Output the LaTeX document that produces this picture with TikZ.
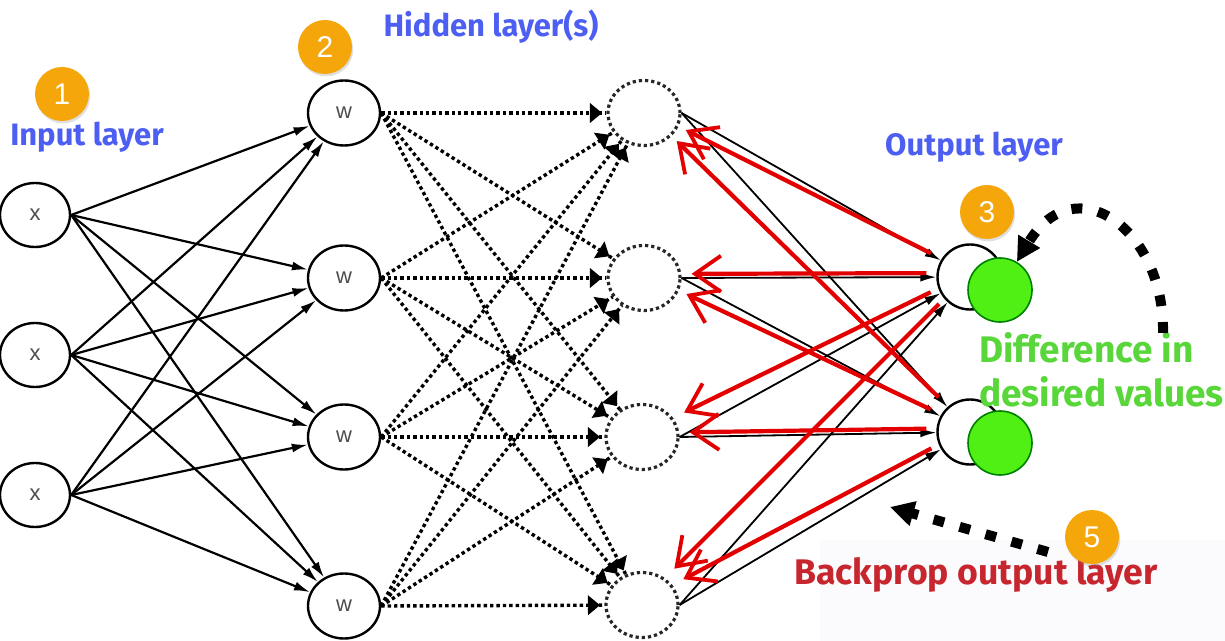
\documentclass[tikz,border=0pt]{standalone}
\usepackage{fontspec}
\usepackage{xcolor}
\usetikzlibrary{arrows.meta,shapes.geometric,shadows}

\setmainfont{Liberation Sans}
\newfontfamily\labelfont{Fira Sans}

\definecolor{layerblue}{RGB}{77,94,242}
\definecolor{diffgreen}{RGB}{88,214,58}
\definecolor{backred}{RGB}{200,38,46}
\definecolor{badgeorange}{RGB}{245,166,10}
\definecolor{outgreen}{RGB}{80,240,20}
\definecolor{arrowred}{RGB}{226,0,0}
\definecolor{paleband}{RGB}{251,251,253}

\tikzset{
  neuron/.style={ellipse,draw,line width=1.2pt,minimum width=36pt,minimum height=32.5pt,
    inner sep=0pt,font=\fontsize{11}{12}\selectfont,text=black!70},
  ghost/.style={neuron,draw=black!85,dash pattern=on 1.6pt off 1.5pt,line width=1.6pt},
  badge/.style={circle,fill=badgeorange,minimum size=27pt,inner sep=0pt,text=white,
    font=\fontsize{15}{15}\selectfont,
    drop shadow={opacity=0.25,shadow xshift=0.6pt,shadow yshift=-1.2pt}},
  layername/.style={font=\labelfont\bfseries\fontsize{15.5}{18}\selectfont,text=layerblue},
  fwd/.style={-{Latex[length=8pt,width=4.5pt]},line width=1.1pt},
  fwdthin/.style={fwd,line width=0.9pt},
  fwddot/.style={line width=1.7pt,dash pattern=on 1.7pt off 1.5pt},
  dothead/.style={isosceles triangle,isosceles triangle stretches,shape border rotate=0,
    minimum width=10pt,minimum height=6pt,inner sep=0pt,fill=black,draw=none,
    pos=1,sloped,anchor=apex},
  backprop/.style={-{Straight Barb[length=13pt,width=18pt,line width=1.9pt]},arrowred,
    line width=2.1pt,shorten <=5pt,shorten >=5pt},
  hint/.style={-{Triangle[length=12pt,width=12pt]},line width=5pt,dash pattern=on 5.5pt off 8pt}
}

\begin{document}
\begin{tikzpicture}[x=0.5pt,y=-0.5pt]
\useasboundingbox (0,0) rectangle (1225,641);
% pale band behind the bottom label
	\fill[paleband] (820,540) rectangle (1225,641);
% input layer
	\node[neuron,minimum width=35pt,minimum height=32pt] (x1) at (35,215) {x};
	\node[neuron,minimum width=35pt,minimum height=32pt] (x2) at (35,355) {x};
	\node[neuron,minimum width=35pt,minimum height=32pt] (x3) at (35,495) {x};
% first hidden layer
	\node[neuron] (w1) at (344,113) {w};
	\node[neuron] (w2) at (344,278) {w};
	\node[neuron] (w3) at (344,437) {w};
	\node[neuron] (w4) at (344,606) {w};
% second hidden layer
	\node[ghost] (d1) at (644,113) {};
	\node[ghost] (d2) at (644,278) {};
	\node[ghost] (d3) at (642,437) {};
	\node[ghost] (d4) at (642,605) {};
% output layer
	\node[neuron,circle,minimum size=32.5pt] (o1) at (970,277) {};
	\node[circle,draw=green!50!black,fill=outgreen,line width=0.8pt,minimum size=32pt] (g1) at (1000,290) {};
	\node[neuron,circle,minimum size=32.5pt] (o2) at (970,432) {};
	\node[circle,draw=green!50!black,fill=outgreen,line width=0.8pt,minimum size=32pt] (g2) at (1000,443) {};

% input -> hidden
	\draw (x1.east) edge[fwd] (w1) edge[fwd] (w2) edge[fwd] (w3) edge[fwd] (w4);
	\draw (x2.east) edge[fwd] (w1) edge[fwd] (w2) edge[fwd] (w3) edge[fwd] (w4);
	\draw (x3.east) edge[fwd] (w1) edge[fwd] (w2) edge[fwd] (w3) edge[fwd] (w4);
% hidden -> hidden
	\draw (w1.east) edge[fwddot] node[dothead]{} (d1) edge[fwddot] node[dothead]{} (d2)
		edge[fwddot] node[dothead]{} (d3) edge[fwddot] node[dothead]{} (d4);
	\draw (w2.east) edge[fwddot] node[dothead]{} (d1) edge[fwddot] node[dothead]{} (d2)
		edge[fwddot] node[dothead]{} (d3) edge[fwddot] node[dothead]{} (d4);
	\draw (w3.east) edge[fwddot] node[dothead]{} (d1) edge[fwddot] node[dothead]{} (d2)
		edge[fwddot] node[dothead]{} (d3) edge[fwddot] node[dothead]{} (d4);
	\draw (w4.east) edge[fwddot] node[dothead]{} (d1) edge[fwddot] node[dothead]{} (d2)
		edge[fwddot] node[dothead]{} (d3) edge[fwddot] node[dothead]{} (d4);
% hidden -> output
	\draw (d1.east) edge[fwdthin] (o1) edge[fwdthin] (o2);
	\draw (d2.east) edge[fwdthin] (o1) edge[fwdthin] (o2);
	\draw (d3.east) edge[fwdthin] (o1) edge[fwdthin] (o2);
	\draw (d4.east) edge[fwdthin] (o1) edge[fwdthin] (o2);
% backprop arrows
\begin{scope}[transform canvas={yshift=2pt}]
	\draw (o1) edge[backprop] (d1) edge[backprop] (d2) edge[backprop] (d3) edge[backprop] (d4);
	\draw (o2) edge[backprop] (d1) edge[backprop] (d2) edge[backprop] (d3) edge[backprop] (d4);
\end{scope}

% labels
	\node[layername] (inlabel) at (87,137) {Input layer};
	\node[layername] (hidlabel) at (491,27) {Hidden layer(s)};
	\node[layername] (outlabel) at (974,147) {Output layer};
	\node[layername,text=diffgreen,align=left,anchor=west,font=\labelfont\bfseries\fontsize{18.5}{22}\selectfont]
		(difflabel) at (972,370) {Difference in\\desired values};
	\node[layername,text=backred,font=\labelfont\bfseries\fontsize{17.8}{20}\selectfont]
		(bplabel) at (976,575) {Backprop output layer};
% badges
	\node[badge] (b1) at (62,94) {1};
	\node[badge] (b2) at (325,47) {2};
	\node[badge] (b3) at (987,212) {3};
	\node[badge] (b5) at (1092,537) {5};
% hint arrows
	\coordinate (c3) at (1163,333);
	\coordinate (c5) at (1048,552);
	\coordinate (t5) at (890,507);
	\draw[hint] (c3) .. controls (1165,230) and (1075,165) .. (g1);
	\draw[hint] (c5) -- (t5);
\end{tikzpicture}
\end{document}
